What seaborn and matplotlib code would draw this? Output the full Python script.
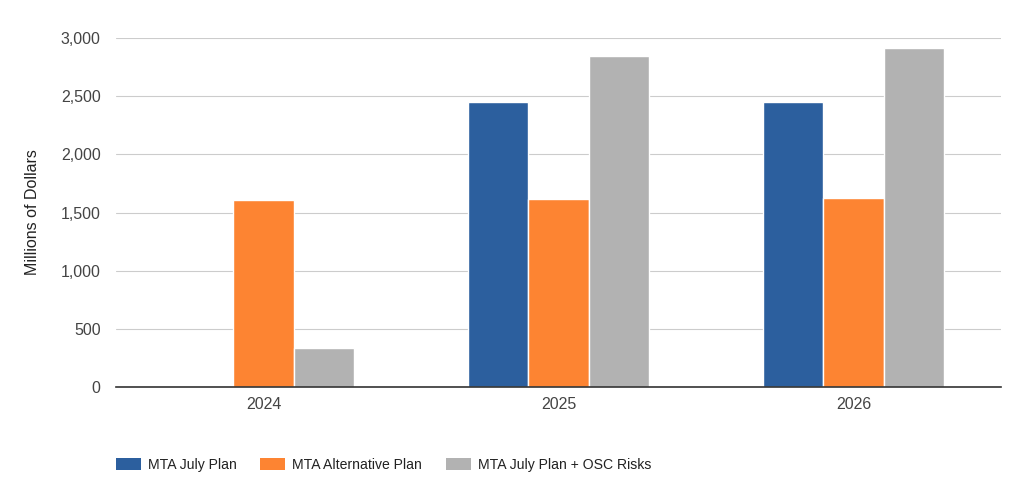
import pandas as pd
import seaborn as sns
import matplotlib.pyplot as plt
from matplotlib.patches import Patch

# %% DATA

years = ['2024', '2025', '2026']
series = ['MTA July Plan', 'MTA Alternative Plan', 'MTA July Plan + OSC Risks']
july_plan = [0, 2452, 2452]
alternative_plan = [1608, 1617, 1626]
july_plus_risks = [336, 2846, 2914]
colors = ['#2c5f9e', '#fd8432', '#b2b2b2']

data = pd.DataFrame({
    'Year': years * 3,
    'Series': [s for s in series for _ in years],
    'Value': july_plan + alternative_plan + july_plus_risks,
})

# %% PLOT

sns.set_style('white')
plt.rcParams['font.family'] = ['Liberation Sans', 'DejaVu Sans']

fig = plt.figure(figsize=(10.23, 4.97), dpi=100)
ax = fig.add_axes([0.1134, 0.2213, 0.8651, 0.7022])

sns.barplot(
    data=data,
    x='Year',
    y='Value',
    hue='Series',
    hue_order=series,
    palette=colors,
    width=0.615,
    edgecolor='white',
    linewidth=1,
    saturation=1,
    legend=False,
    ax=ax,
)

ax.set_ylim(0, 3000)
ax.set_xlim(-0.5, 2.5)
ax.set_yticks(range(0, 3001, 500))
ax.yaxis.set_major_formatter(plt.FuncFormatter(lambda v, _: f'{int(v):,}'))
ax.grid(axis='y', color='#cccccc', linewidth=0.8)
ax.set_axisbelow(True)
for side in ['top', 'right', 'left']:
    ax.spines[side].set_visible(False)
ax.spines['bottom'].set_color('#333333')
ax.spines['bottom'].set_linewidth(1.2)
ax.tick_params(axis='both', length=0, labelsize=11.5, labelcolor='#444444')
ax.tick_params(axis='y', pad=11)
ax.tick_params(axis='x', pad=7)
ax.set_xlabel('')
ax.set_ylabel('Millions of Dollars', fontsize=11.5, color='#222222')
ax.yaxis.set_label_coords(-0.086, 0.5)

handles = [Patch(facecolor=c, edgecolor='none') for c in colors]
fig.legend(
    handles, series,
    loc='center left',
    bbox_to_anchor=(0.101, 0.065),
    ncol=3,
    frameon=False,
    fontsize=10.1,
    handlelength=1.8,
    handleheight=0.94,
    handletextpad=0.5,
    columnspacing=1.65,
    labelcolor='#222222',
)

fig.savefig('out.png', dpi=100)
